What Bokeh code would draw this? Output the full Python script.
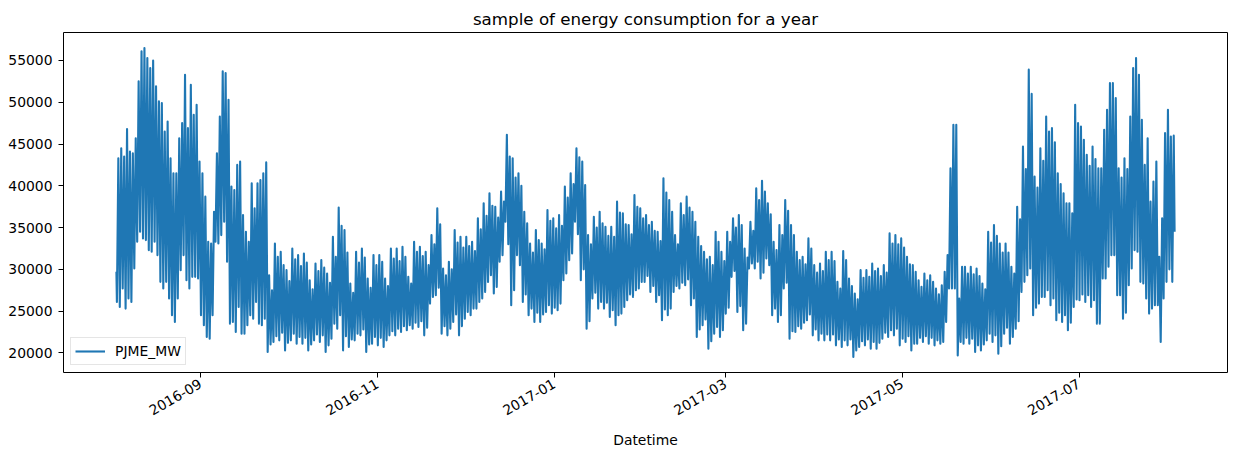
import math
import numpy as np
from bokeh.plotting import figure
from bokeh.models import FixedTicker, DatetimeTickFormatter, Range1d, BasicTickFormatter
from bokeh.embed import file_html
from bokeh.resources import INLINE

title_text = "sample of energy consumption for a year"
series_name = "PJME_MW"
x_label = "Datetime"
start_date = "2016-08-03"
start_value = 29700
end_value = 34500

# daily peak values (MW), one per day from 2016-08-03
daily_max = [
    43300, 44500, 43500, 46800, 44100, 43900, 45700, 52500, 56100, 56500,
    55300, 54100, 55000, 51900, 50100, 49900, 46500, 47700, 43300, 41500,
    41500, 45700, 47500, 53300, 46900, 52100, 48500, 49700, 42900, 41500,
    38700, 33300, 33100, 36900, 43900, 48300, 53700, 53500, 50300, 39900,
    39500, 42500, 42900, 36500, 34500, 33300, 40300, 37300, 40300, 40700,
    41500, 42800, 29300, 27500, 33100, 31500, 32100, 30500, 29900, 28600,
    32500, 31200, 31700, 30400, 31900, 30800, 28700, 27600, 30700, 29800,
    31100, 30200, 29500, 28400, 33900, 31500, 37400, 35200, 34700, 32000,
    28300, 27200, 32100, 30800, 32500, 31400, 28900, 27800, 31700, 30500,
    31700, 30900, 28900, 28000, 32500, 31300, 32500, 31000, 32700, 31500,
    29100, 28300, 33300, 32100, 32700, 31600, 32100, 30500, 34100, 33000,
    37300, 35400, 30100, 29300, 30900, 30000, 34700, 33200, 33900, 32600,
    33900, 32800, 33300, 32200, 36100, 34800, 37900, 36400, 39100, 37600,
    37500, 36200, 39300, 38100, 46100, 43500, 43300, 41000, 41500, 40000,
    36900, 35500, 33100, 32000, 34700, 33500, 33100, 32400, 37100, 35800,
    36100, 34900, 36500, 35200, 39900, 38600, 41500, 40200, 44500, 43400,
    42900, 40100, 34100, 33000, 36300, 35000, 36900, 35500, 35100, 34000,
    35100, 33900, 38100, 36800, 36700, 35400, 35300, 34200, 38900, 37500,
    37300, 36100, 36500, 35300, 35700, 34600, 34500, 33400, 40900, 39200,
    38300, 36900, 34100, 33000, 37900, 36500, 38700, 37400, 36900, 35700,
    33900, 32800, 32100, 31200, 31500, 30500, 34500, 33300, 32100, 31000,
    34500, 33300, 36100, 35000, 36500, 35300, 32500, 31400, 35700, 34600,
    39700, 38300, 40600, 39300, 37900, 36600, 33300, 32300, 35300, 34100,
    38300, 37000, 35300, 34100, 32100, 31100, 31500, 30600, 33700, 32500,
    30500, 29600, 30700, 29800, 32100, 31100, 32100, 31000, 28500, 27700,
    32200, 31100, 28900, 28000, 27100, 26400, 29900, 29000, 29900, 29100,
    30700, 29800, 30100, 29200, 30500, 29600, 34300, 33100, 34100, 33000,
    33700, 32600, 31500, 30600, 30500, 29700, 28700, 27900, 29500, 28700,
    29300, 28500, 27700, 27000, 28100, 29700, 31700, 42100, 47300, 47300,
    26500, 30300, 30300, 29500, 30300, 29400, 30100, 29200, 28300, 27600,
    34500, 33200, 35300, 34000, 33100, 32000, 33100, 32000, 30300, 29500,
    37500, 36000, 44700, 42000, 53900, 51000, 41100, 39800, 44500, 43000,
    48300, 46500, 46900, 45200, 41500, 40200, 39100, 37900, 37900, 36700,
    49700, 47500, 47100, 45500, 43700, 42400, 44700, 43200, 42100, 42100,
    46700, 49100, 52300, 52300, 50500, 42100, 41000, 43300, 42000, 48300,
    54100, 55300, 53300, 47900, 42500, 45700, 38100, 40500, 42900, 31500,
    36100, 46300, 49100, 45900, 46000,
]

# daily night-time low values (MW)
daily_min = [
    26100, 25500, 27700, 25300, 26500, 26100, 30100, 33300, 34500, 33700,
    33500, 32300, 32100, 33300, 31700, 28500, 27700, 28500, 26500, 24500,
    23700, 26500, 29900, 31700, 28700, 27700, 29100, 29100, 28900, 24500,
    23300, 21900, 21700, 24500, 33300, 33100, 34100, 35700, 30900, 23500,
    23700, 22500, 25500, 22300, 22300, 23300, 24500, 24100, 26100, 23500,
    23300, 24100, 20100, 21000, 21300, 22000, 21500, 22400, 20300, 21200,
    21500, 22300, 21100, 21900, 21100, 21800, 20300, 21000, 21500, 22200,
    21300, 22100, 20100, 20900, 21700, 23500, 22900, 24500, 20300, 22000,
    20700, 21600, 21500, 22300, 22100, 22800, 20100, 21000, 21100, 21900,
    20900, 21800, 20700, 21500, 22100, 22600, 22100, 22900, 22500, 23200,
    22700, 23300, 22900, 23600, 23100, 23800, 22100, 23000, 25900, 26700,
    26900, 27800, 22300, 23200, 22100, 22900, 23700, 24600, 22100, 23200,
    24100, 24900, 24500, 25300, 25300, 26100, 26500, 27300, 28500, 29300,
    27100, 27900, 30900, 31700, 35700, 33000, 25700, 27500, 31700, 30500,
    26100, 27000, 24500, 25300, 23700, 24800, 23700, 24600, 24900, 25700,
    24700, 25400, 25100, 25900, 28700, 29500, 31100, 31900, 35700, 34200,
    28700, 30000, 22900, 23800, 26500, 27200, 25300, 26100, 25300, 26000,
    24300, 25100, 23300, 24500, 24700, 25500, 26300, 27000, 26700, 27500,
    27700, 28500, 28500, 29200, 27300, 28000, 26100, 26900, 23900, 25200,
    24500, 25300, 27300, 28000, 27700, 28400, 28100, 28800, 25700, 26500,
    21900, 22800, 23300, 24000, 20500, 21400, 22300, 23100, 21900, 22700,
    24700, 25400, 29100, 29800, 24900, 25600, 22700, 23500, 30100, 30700,
    30100, 30900, 28900, 29600, 31300, 30500, 24500, 25300, 23700, 24500,
    27700, 28400, 21700, 22600, 22500, 23200, 22900, 23600, 23900, 24600,
    22100, 22800, 21500, 22300, 21500, 22200, 21500, 22200, 20900, 21600,
    20700, 21500, 20900, 21600, 19500, 20300, 20700, 21400, 20900, 21600,
    20500, 21300, 20500, 21200, 21700, 22400, 21900, 22700, 22100, 22900,
    20900, 21700, 21300, 22000, 20300, 21100, 21100, 21800, 21300, 22000,
    21100, 21800, 20900, 21500, 21100, 21300, 23700, 27700, 27700, 27700,
    19700, 21300, 21100, 21800, 21100, 21700, 20100, 20900, 20300, 21000,
    21500, 22300, 21300, 22100, 19900, 20800, 22300, 23000, 21100, 21900,
    22900, 23800, 27300, 28500, 29300, 30100, 24500, 25400, 25900, 26700,
    26700, 27500, 25700, 26500, 23900, 24800, 23700, 24500, 22700, 23600,
    25500, 26400, 26300, 27000, 26100, 26900, 25500, 26300, 23500, 23500,
    28900, 28900, 30300, 31700, 31700, 26900, 26900, 24100, 24800, 28100,
    30100, 32300, 32100, 28500, 28300, 26500, 24700, 25300, 25700, 25700,
    21300, 26500, 28500, 30000, 28500,
]

x_tick_labels = ["2016-09", "2016-11", "2017-01", "2017-03", "2017-05", "2017-07"]
y_ticks = [20000, 25000, 30000, 35000, 40000, 45000, 50000, 55000]

# place each day's low at 04:00 and its peak at 16:00
epoch = np.datetime64("1970-01-01T00:00")
base = np.datetime64(start_date + "T00:00")
hours = [0]
vals = [start_value]
for d, (lo, hi) in enumerate(zip(daily_min, daily_max)):
    hours += [d * 24 + 4, d * 24 + 16]
    vals += [lo, hi]
hours.append(len(daily_max) * 24 - 1)
vals.append(end_value)
times = base + np.array(hours).astype("timedelta64[h]")
t_ms = (times - epoch).astype("timedelta64[ms]").astype(np.float64)
vals = np.array(vals, dtype=float)

tspan = t_ms[-1] - t_ms[0]
vspan = vals.max() - vals.min()
x_range = Range1d(t_ms[0] - 0.05 * tspan, t_ms[-1] + 0.05 * tspan)
y_range = Range1d(vals.min() - 0.05 * vspan, vals.max() + 0.05 * vspan)

x_ticks = [float((np.datetime64(l + "-01T00:00") - epoch).astype("timedelta64[ms]").astype(np.int64)) for l in x_tick_labels]

FONT = "DejaVu Sans"

p = figure(width=1235, height=452, x_axis_type="datetime", output_backend="svg",
           toolbar_location=None, title=title_text, x_range=x_range, y_range=y_range,
           min_border_left=63, min_border_right=8, min_border_top=32, min_border_bottom=80)

p.line(t_ms, vals, line_color="#1f77b4", line_width=2.1, line_join="round",
       legend_label=series_name)

p.title.text_font = FONT
p.title.text_font_size = "16.7px"
p.title.text_font_style = "normal"
p.title.align = "center"
p.title.text_color = "black"
p.title.standoff = 8

p.xgrid.visible = False
p.ygrid.visible = False
p.outline_line_color = "black"
p.outline_line_width = 1
p.outline_line_alpha = 1
p.background_fill_color = "white"
p.border_fill_color = "white"

p.xaxis.ticker = FixedTicker(ticks=x_ticks)
fmt = "%Y-%m"
p.xaxis.formatter = DatetimeTickFormatter(microseconds=fmt, milliseconds=fmt, seconds=fmt, minsec=fmt,
                                          minutes=fmt, hourmin=fmt, hours=fmt, days=fmt, months=fmt, years=fmt)
p.xaxis.major_label_orientation = math.pi / 6
p.xaxis.axis_label = x_label

p.yaxis.ticker = FixedTicker(ticks=y_ticks)
p.yaxis.formatter = BasicTickFormatter(use_scientific=False)

for ax in (p.xaxis[0], p.yaxis[0]):
    ax.axis_line_color = None
    ax.major_tick_line_color = "black"
    ax.major_tick_line_width = 1
    ax.major_tick_out = 5
    ax.major_tick_in = 0
    ax.minor_tick_line_color = None
    ax.major_label_text_font = FONT
    ax.major_label_text_font_size = "13.9px"
    ax.major_label_text_color = "black"
    ax.axis_label_text_font = FONT
    ax.axis_label_text_font_size = "13.9px"
    ax.axis_label_text_font_style = "normal"
    ax.axis_label_text_color = "black"

p.xaxis[0].major_label_standoff = 5
p.xaxis[0].axis_label_standoff = 9
p.yaxis[0].major_label_standoff = 6

lg = p.legend[0]
lg.location = "bottom_left"
lg.margin = 7
lg.padding = 4
lg.spacing = 0
lg.glyph_width = 30
lg.glyph_height = 18
lg.label_height = 18
lg.label_standoff = 10
lg.label_text_font = FONT
lg.label_text_font_size = "13.9px"
lg.label_text_color = "black"
lg.border_line_color = "#cccccc"
lg.border_line_width = 1
lg.background_fill_color = "white"
lg.background_fill_alpha = 0.8

open("out.html", "w").write(file_html(p, INLINE))
